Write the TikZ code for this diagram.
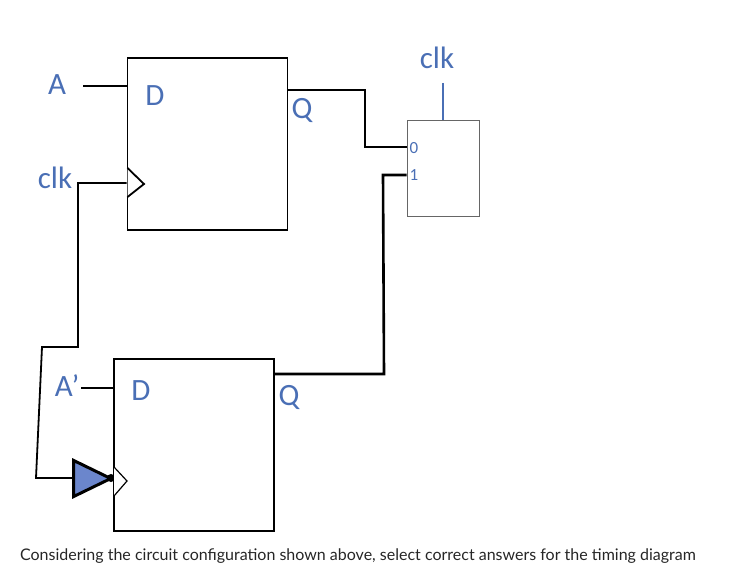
\documentclass[tikz,border=0pt]{standalone}
\usepackage{fontspec}
\setmainfont{Carlito}
\newfontfamily\captionfont{Lato}
\usepackage{tikz}
\usetikzlibrary{positioning}
\usetikzlibrary{shapes.geometric}
\definecolor{labelblue}{HTML}{4A6FB5}
\definecolor{invblue}{HTML}{6B86CC}
\tikzset{
  flop/.style={rectangle, draw, line width=1.8pt, minimum width=160pt, minimum height=172pt, inner sep=0pt},
  wire/.style={draw, line width=1.8pt},
  thickwire/.style={draw, line width=2.6pt},
  pin/.style={text=labelblue, font=\fontsize{31}{32}\selectfont, inner sep=0pt},
  muxpin/.style={text=labelblue, font=\fontsize{17}{18}\selectfont, inner sep=0pt}
}

\begin{document}
\begin{tikzpicture}[x=1pt, y=-1pt]
        \useasboundingbox (0, 0) rectangle (749, 572);

        \node[flop] (flopA) at (207.5, 144) {};
        \node[flop] (flopB) at (194, 445) {};
        \node[rectangle, draw=black!60, line width=0.8pt, minimum width=72pt, minimum height=96pt, inner sep=0pt] (mux) at (443, 168) {};
        \node[isosceles triangle, isosceles triangle stretches, shape border rotate=0, minimum width=36pt, minimum height=37pt, inner sep=0pt, draw, line width=3pt, fill=invblue] (inv) at (85, 478.5) {};
        \node[circle, fill, minimum size=8pt, inner sep=0pt] (bubble) at (111, 478) {};

        \node[pin] (labelA) at (57, 85) {A};
        \node[pin] (labelClkA) at (55, 178) {clk};
        \node[pin] (labelAn) at (67, 386) {A’};
        \node[pin] (labelClkMux) at (437, 58) {clk};
        \node[pin] (labelDA) at (155, 96) {D};
        \node[pin] (labelQA) at (302, 110) {Q};
        \node[pin] (labelDB) at (141, 391) {D};
        \node[pin] (labelQB) at (289, 397) {Q};
        \node[muxpin] (labelZero) at (414, 148) {0};
        \node[muxpin] (labelOne) at (414, 175) {1};
        \node[inner sep=0pt, font=\captionfont\fontsize{16}{18}\selectfont, text=black!85] (caption) at (358, 556) {Considering the circuit configuration shown above, select correct answers for the timing diagram};

        \coordinate (startA) at (83, 86);
        \coordinate (startAn) at (81, 388);
        \coordinate (clkTop) at (443, 83);
        \coordinate (clkBendA) at (78, 183);
        \coordinate (clkBendB) at (78, 347);
        \coordinate (clkBendC) at (42, 347);
        \coordinate (clkBendD) at (36, 478);
        \coordinate (qBendA) at (365, 90);
        \coordinate (qBendB) at (365, 147);
        \coordinate (qBendC) at (384, 374);
        \coordinate (qBendD) at (383, 175);

        \draw[thickwire] (startA) -- (startA -| flopA.west);
        \draw[thickwire] (startAn) -- (startAn -| flopB.west);
        \draw[labelblue, line width=2.6pt] (clkTop) -- (clkTop |- mux.north);
        \draw[wire] (clkBendA -| flopA.west) -- (clkBendA) -- (clkBendB) -- (clkBendC) -- (clkBendD) -- (clkBendD -| inv.west);
        \draw[wire] (qBendA -| flopA.east) -- (qBendA) -- (qBendB) -- (qBendB -| mux.west);
        \draw[thickwire] (qBendC -| flopB.east) -- (qBendC) -- (qBendD) -- (qBendD -| mux.west);

        % clock marks
        \draw[wire, fill=white] (127.5, 168) -- (144, 184) -- (127.5, 197);
        \draw[draw, line width=1.2pt, fill=white] (114, 467) -- (127, 481) -- (114, 496);
\end{tikzpicture}
\end{document}
